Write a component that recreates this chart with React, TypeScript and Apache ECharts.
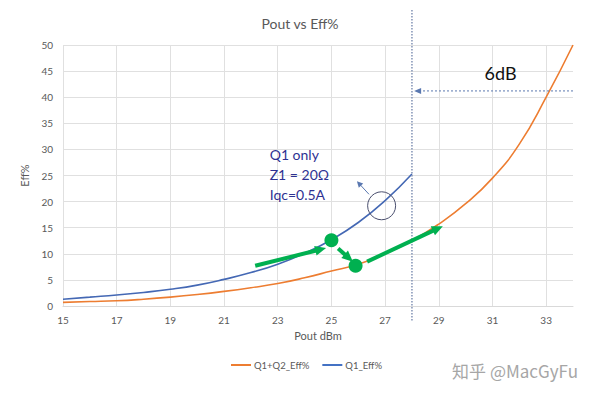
import React, { useEffect, useRef } from "react";
import * as echarts from "echarts";

const X0 = 15; // axis origin (dBm)
const poutAll = [15, 16, 17, 18, 19, 20, 21, 22, 23, 24, 25, 26, 27, 28, 29, 30, 31, 32, 33, 34];
const effQ1Q2 = [0.7, 0.85, 1.0, 1.3, 1.7, 2.2, 2.8, 3.5, 4.3, 5.4, 6.7, 8.0, 10.0, 12.5, 15.7, 19.6, 24.5, 31.0, 40.0, 50.0];
const poutQ1 = [15, 16, 17, 18, 19, 20, 21, 22, 23, 24, 25, 26, 27, 28];
const effQ1 = [1.3, 1.7, 2.1, 2.6, 3.2, 4.0, 5.1, 6.4, 8.0, 10.1, 12.7, 16.0, 20.2, 25.3];
const yTicks = [0, 5, 10, 15, 20, 25, 30, 35, 40, 45, 50];

// annotations in data coordinates [Pout, Eff]
const vLine = [[28, 56.7], [28, -3.0]];
const hArrow = [[34, 41.2], [28.08, 41.2]];
const label6dB = [31.3, 44.6];
const noteAnchor = [22.7, 31.0];
const noteLines = ["Q1 only", "Z1 = 20Ω", "Iqc=0.5A"];
const ringCenter = [26.87, 19.2];
const ringArrow = [[26.4, 21.4], [25.95, 23.9]];
const greenArrows = [
  [[22.16, 7.7], [24.8, 11.1]],
  [[25.25, 11.0], [25.8, 8.5]],
  [[26.33, 8.5], [29.15, 15.3]],
];
const greenDots = [[25.0, 12.6], [25.9, 7.7]];

const FONT = "Lato, 'Noto Sans', sans-serif";

function arrowParts(a: number[], b: number[], len: number, wid: number) {
  const dx = b[0] - a[0];
  const dy = b[1] - a[1];
  const d = Math.sqrt(dx * dx + dy * dy) || 1;
  const ux = dx / d, uy = dy / d;
  const nx = -uy, ny = ux;
  const bx = b[0] - ux * len, by = b[1] - uy * len;
  return {
    lineEnd: [bx + ux * 1, by + uy * 1],
    head: [
      [b[0], b[1]],
      [bx + nx * wid / 2, by + ny * wid / 2],
      [bx - nx * wid / 2, by - ny * wid / 2],
    ],
  };
}

export default function App() {
  const ref = useRef<HTMLDivElement>(null);
  useEffect(() => {
    if (!ref.current) return;
    const chart = echarts.init(ref.current, null, { renderer: "svg" });
    chart.setOption({
      animation: false,
      backgroundColor: "#ffffff",
      title: {
        text: "Pout vs Eff%",
        left: "center",
        top: 11,
        textStyle: { fontFamily: FONT, fontSize: 14, fontWeight: "normal", color: "#595959" },
      },
      grid: { left: 63, right: 27, top: 45, bottom: 92, containLabel: false },
      xAxis: {
        type: "value",
        min: 0,
        max: poutAll[poutAll.length - 1] - X0,
        interval: 2,
        name: "Pout dBm",
        nameLocation: "middle",
        nameGap: 20,
        nameTextStyle: { fontFamily: FONT, fontSize: 11, color: "#595959" },
        axisLine: { show: true, lineStyle: { color: "#d9d9d9", width: 1 } },
        axisTick: { show: false },
        axisLabel: {
          fontFamily: FONT,
          fontSize: 10,
          color: "#595959",
          margin: 9,
          showMaxLabel: false,
          formatter: (v: number) => String(v + X0),
        },
        splitLine: { show: true, showMaxLine: false, lineStyle: { color: "#e0e0e0", width: 1 } },
      },
      yAxis: {
        type: "value",
        min: yTicks[0],
        max: yTicks[yTicks.length - 1],
        interval: 5,
        name: "Eff%",
        nameLocation: "middle",
        nameGap: 20,
        nameTextStyle: { fontFamily: FONT, fontSize: 11, color: "#595959" },
        axisLine: { show: false },
        axisTick: { show: false },
        axisLabel: { fontFamily: FONT, fontSize: 10, color: "#595959", margin: 10 },
        splitLine: { show: true, lineStyle: { color: "#e0e0e0", width: 1 } },
      },
      legend: {
        top: 355,
        left: 226,
        itemWidth: 20,
        itemHeight: 2,
        itemGap: 13,
        icon: "rect",
        textStyle: { fontFamily: FONT, fontSize: 9.5, color: "#595959", padding: [0, 0, 0, -2] },
        data: ["Q1+Q2_Eff%", "Q1_Eff%"],
      },
      series: [
        {
          name: "Q1+Q2_Eff%",
          type: "line",
          smooth: true,
          showSymbol: false,
          symbol: "none",
          color: "#ed7d31",
          lineStyle: { width: 1.6, color: "#ed7d31" },
          data: poutAll.map((p, i) => [p - X0, effQ1Q2[i]]),
        },
        {
          name: "Q1_Eff%",
          type: "line",
          smooth: true,
          showSymbol: false,
          symbol: "none",
          color: "#4472c4",
          lineStyle: { width: 1.6, color: "#4468b4" },
          data: poutQ1.map((p, i) => [p - X0, effQ1[i]]),
        },
      ],
    });

    const px = (c: number[]) => chart.convertToPixel({ gridIndex: 0 }, [c[0] - X0, c[1]]) as number[];
    const g: any[] = [];

    // vertical dotted line at 28 dBm
    const v0 = px(vLine[0]), v1 = px(vLine[1]);
    g.push({
      type: "line",
      z: 50,
      shape: { x1: v0[0], y1: v0[1], x2: v1[0], y2: v1[1] },
      style: { stroke: "#8293b5", lineWidth: 1.5, lineDash: [1.5, 1.5] },
    });
    // horizontal dotted arrow
    const h0 = px(hArrow[0]), h1 = px(hArrow[1]);
    const ha = arrowParts(h0, h1, 7, 6);
    g.push({
      type: "line",
      z: 50,
      shape: { x1: h0[0], y1: h0[1], x2: ha.lineEnd[0], y2: ha.lineEnd[1] },
      style: { stroke: "#5a78b0", lineWidth: 1, lineDash: [2, 2] },
    });
    g.push({ type: "polygon", z: 50, shape: { points: ha.head }, style: { fill: "#5a78b0" } });
    // 6dB label
    const l6 = px(label6dB);
    g.push({
      type: "text",
      z: 50,
      x: l6[0],
      y: l6[1],
      style: { text: "6dB", fontFamily: FONT, fontSize: 18, fill: "#111111", align: "center", verticalAlign: "middle" },
    });
    // note text
    const na = px(noteAnchor);
    g.push({
      type: "text",
      z: 50,
      x: na[0],
      y: na[1],
      style: {
        text: noteLines.join("\n"),
        fontFamily: FONT,
        fontSize: 14,
        lineHeight: 20,
        fill: "#2e3192",
        align: "left",
        verticalAlign: "top",
      },
    });
    // ring
    const rc = px(ringCenter);
    g.push({
      type: "circle",
      z: 50,
      shape: { cx: rc[0], cy: rc[1], r: 14 },
      style: { fill: "none", stroke: "#4a4f6e", lineWidth: 1 },
    });
    const r0 = px(ringArrow[0]), r1 = px(ringArrow[1]);
    const ra = arrowParts(r0, r1, 6, 6);
    g.push({
      type: "line",
      z: 50,
      shape: { x1: r0[0], y1: r0[1], x2: ra.lineEnd[0], y2: ra.lineEnd[1] },
      style: { stroke: "#5a78b0", lineWidth: 1 },
    });
    g.push({ type: "polygon", z: 50, shape: { points: ra.head }, style: { fill: "#5a78b0" } });
    // green arrows
    greenArrows.forEach((ar) => {
      const a = px(ar[0]), b = px(ar[1]);
      const p = arrowParts(a, b, 11, 10);
      g.push({
        type: "line",
        z: 60,
        shape: { x1: a[0], y1: a[1], x2: p.lineEnd[0], y2: p.lineEnd[1] },
        style: { stroke: "#00b050", lineWidth: 4 },
      });
      g.push({ type: "polygon", z: 60, shape: { points: p.head }, style: { fill: "#00b050" } });
    });
    greenDots.forEach((d) => {
      const c = px(d);
      g.push({ type: "circle", z: 61, shape: { cx: c[0], cy: c[1], r: 7 }, style: { fill: "#00b050" } });
    });
    // watermark
    g.push({
      type: "text",
      z: 70,
      right: 22,
      top: 362,
      style: {
        text: "知乎 @MacGyFu",
        fontFamily: "'Noto Sans CJK SC', 'Noto Sans', sans-serif",
        fontSize: 17,
        fill: "#a6a6a6",
      },
    });
    chart.setOption({ graphic: g });

    return () => chart.dispose();
  }, []);
  return <div ref={ref} style={{ width: 600, height: 398, margin: -8 }} />;
}
